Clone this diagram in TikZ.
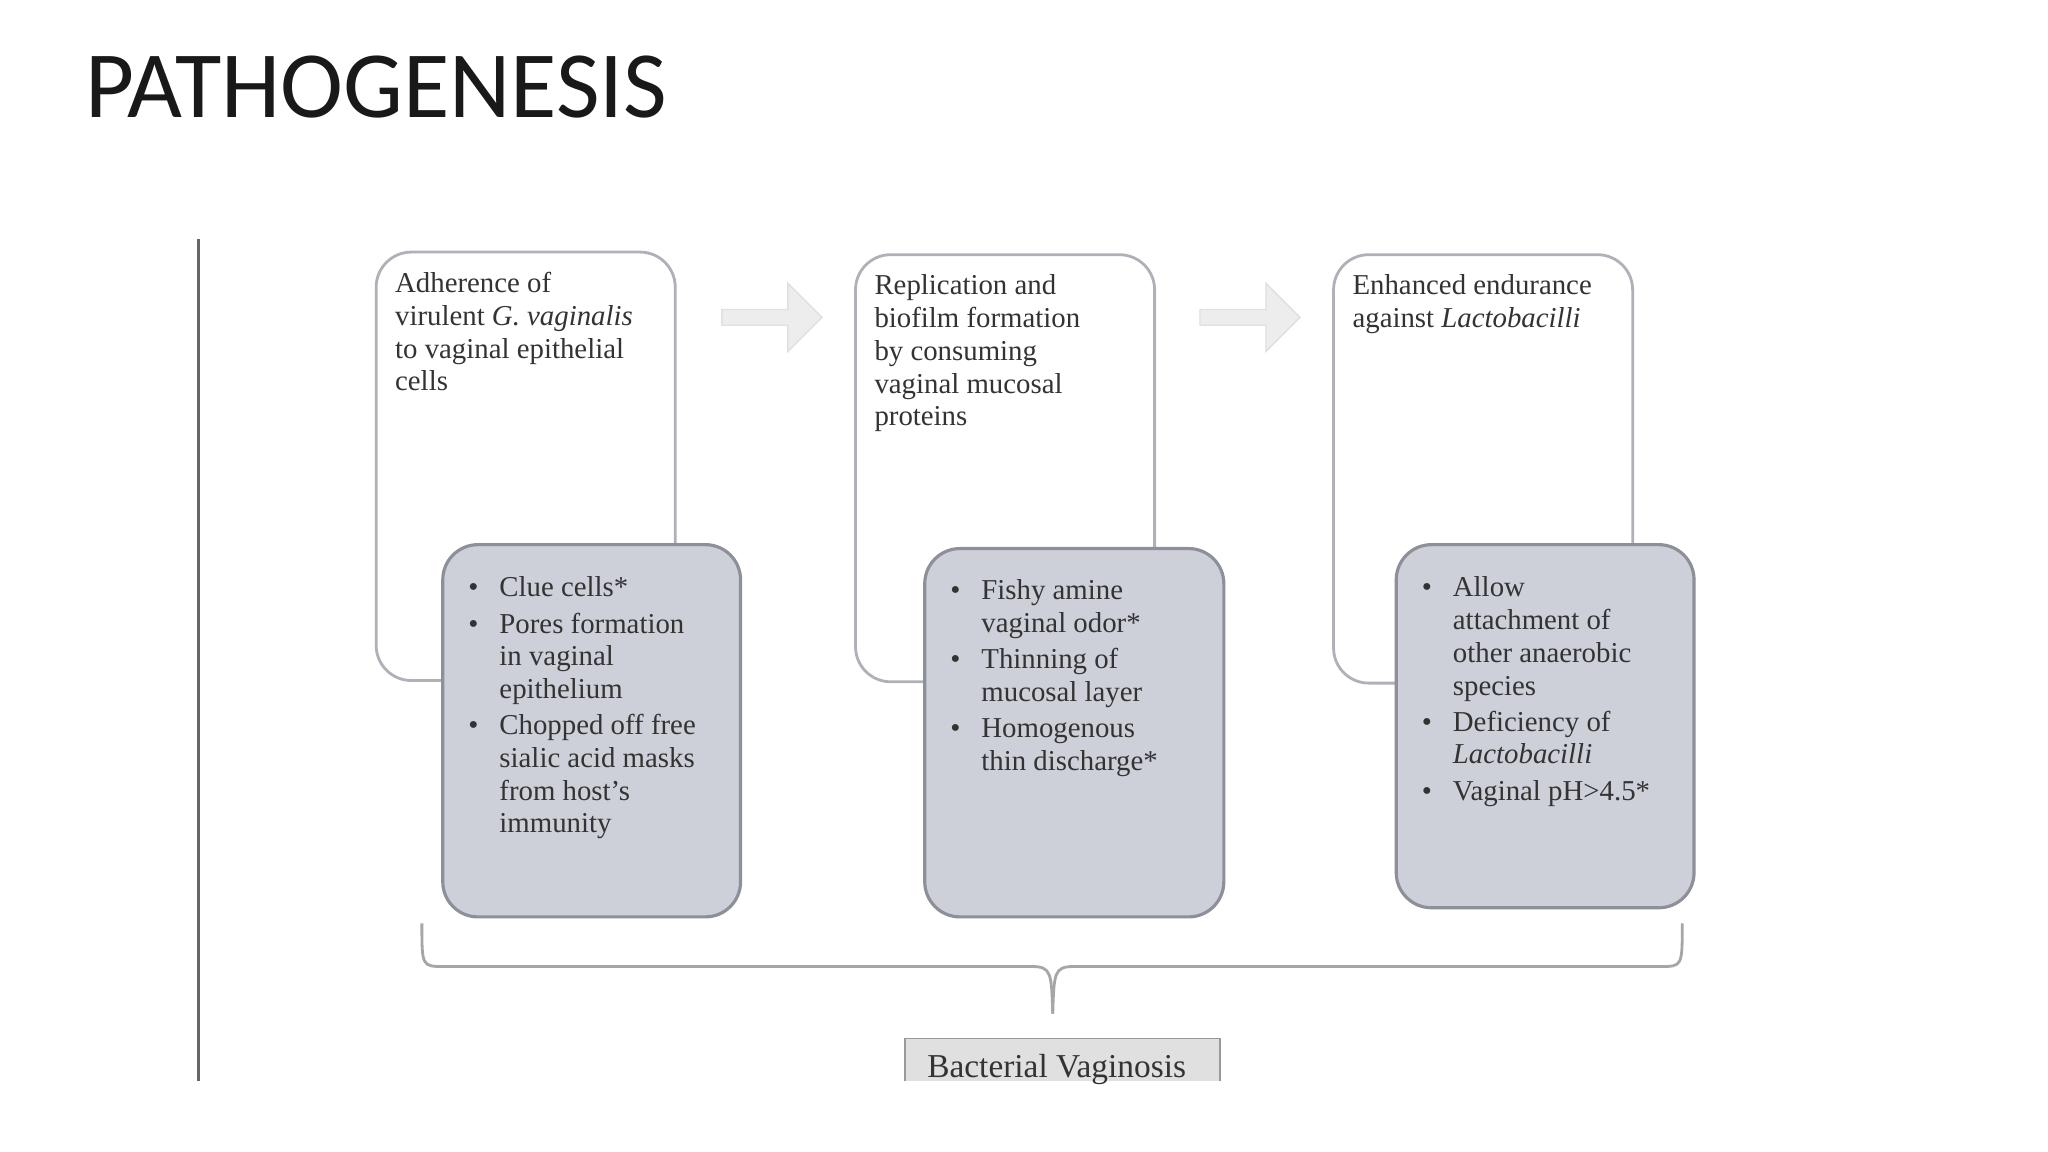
\documentclass[tikz,border=0pt]{standalone}
\usepackage{fontspec}
\setmainfont{Liberation Serif}
\newfontfamily\titlefont{Carlito}
\usetikzlibrary{shapes.arrows}
\definecolor{boxgray}{HTML}{CDD0D9}
\definecolor{edgegray}{HTML}{8E9099}
\begin{document}
\begin{tikzpicture}[x=0.01306cm,y=-0.01306cm,
  wbox/.style={draw=edgegray!70,line width=0.8pt,rounded corners=10pt,fill=white},
  gbox/.style={draw=edgegray,line width=0.9pt,rounded corners=10pt,fill=boxgray},
  txt/.style={anchor=north west,align=left,inner sep=0,font=\fontsize{8.2}{9.3}\selectfont,text=black!80},
  sarrow/.style={single arrow,draw=black!12,fill=black!7,minimum height=1cm,minimum width=0.68cm,single arrow head extend=4pt,inner sep=1pt}]
\useasboundingbox[fill=white] (0,0) rectangle (1568,882);
\node[anchor=base west,inner sep=0,font=\titlefont\fontsize{27}{30}\selectfont,text=black!90] (title) at (65,90) {PATHOGENESIS};
\draw[black!60,line width=0.6pt] (152,183) coordinate (vl1) -- (152,828) coordinate (vl2);
% white boxes
\draw[wbox] (288,193) rectangle (517,521);
\draw[wbox] (655,195) rectangle (884,522);
\draw[wbox] (1021,195) rectangle (1250,523);
\node[txt] (t1) at (302,208) {Adherence of\\virulent \textit{G. vaginalis}\\to vaginal epithelial\\cells};
\node[txt] (t2) at (669,210) {Replication and\\biofilm formation\\by consuming\\vaginal mucosal\\proteins};
\node[txt] (t3) at (1035,210) {Enhanced endurance\\against \textit{Lactobacilli}};
% arrows
\node[sarrow] (a1) at (588,243) {};
\node[sarrow] (a2) at (954,243) {};
% gray boxes
\draw[gbox] (339,417) rectangle (567,702);
\draw[gbox] (708,420) rectangle (937,702);
\draw[gbox] (1069,417) rectangle (1297,695);
\node[txt] (l1) at (358,439) {\begin{tabular}{@{}l@{\hspace{6pt}}l@{}}
\textbullet & Clue cells*\\[1pt]
\textbullet & Pores formation\\ & in vaginal\\ & epithelium\\[1pt]
\textbullet & Chopped off free\\ & sialic acid masks\\ & from host's\\ & immunity\end{tabular}};
\node[txt] (l2) at (727,441) {\begin{tabular}{@{}l@{\hspace{6pt}}l@{}}
\textbullet & Fishy amine\\ & vaginal odor*\\[1pt]
\textbullet & Thinning of\\ & mucosal layer\\[1pt]
\textbullet & Homogenous\\ & thin discharge*\end{tabular}};
\node[txt] (l3) at (1088,439) {\begin{tabular}{@{}l@{\hspace{6pt}}l@{}}
\textbullet & Allow\\ & attachment of\\ & other anaerobic\\ & species\\[1pt]
\textbullet & Deficiency of\\ & \textit{Lactobacilli}\\[1pt]
\textbullet & Vaginal pH>4.5*\end{tabular}};
% brace
\draw[black!35,line width=0.8pt] (323,707) coordinate (b1) .. controls (323,740) and (323,740) .. (340,740) -- (790,740) .. controls (805,740) and (805,745) .. (806,776) coordinate (bt);
\draw[black!35,line width=0.8pt] (1288,707) coordinate (b2) .. controls (1288,740) and (1288,740) .. (1271,740) -- (822,740) .. controls (807,740) and (807,745) .. (806,776);
% bottom box
\fill[black!12] (693,795) rectangle (934,828);
\draw[black!40] (693,828) -- (693,795) -- (934,795) -- (934,828);
\node[font=\fontsize{9.5}{11}\selectfont,text=black!80,anchor=base,inner sep=0] (bv) at (809,825) {Bacterial Vaginosis};
\end{tikzpicture}
\end{document}
